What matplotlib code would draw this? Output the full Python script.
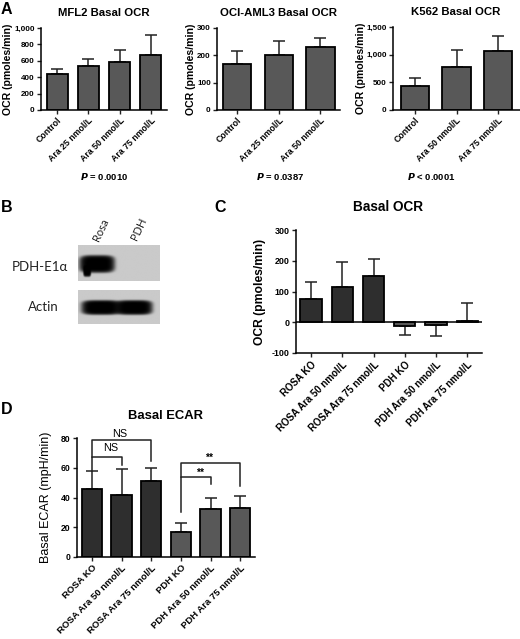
"""Basal OCR / ECAR figure with bar panels and a western blot."""

import matplotlib
matplotlib.use("Agg")
import matplotlib.pyplot as plt
import numpy as np

W, H = 520, 639

mfl2_labels = ["Control", "Ara 25 nmol/L", "Ara 50 nmol/L", "Ara 75 nmol/L"]
mfl2_values = [440, 540, 580, 665]
mfl2_tops = [505, 625, 730, 910]

oci_labels = ["Control", "Ara 25 nmol/L", "Ara 50 nmol/L"]
oci_values = [170, 203, 230]
oci_tops = [215, 253, 265]

k562_labels = ["Control", "Ara 50 nmol/L", "Ara 75 nmol/L"]
k562_values = [440, 785, 1065]
k562_tops = [570, 1090, 1330]

ko_labels = ["ROSA KO", "ROSA Ara 50 nmol/L", "ROSA Ara 75 nmol/L",
             "PDH KO", "PDH Ara 50 nmol/L", "PDH Ara 75 nmol/L"]
ocr_values = [75, 115, 152, -13, -8, 3]
ocr_ends = [132, 197, 205, -43, -45, 62]
ecar_values = [45.5, 42, 51, 16.5, 32.5, 33]
ecar_tops = [58, 59, 60, 23, 40, 41]

DARK = "#2e2e2e"
MID = "#585858"
KO_COLORS = [DARK, DARK, DARK, MID, MID, MID]

plt.rcParams["font.family"] = ["Liberation Sans", "DejaVu Sans"]
plt.rcParams["font.weight"] = "bold"

fig = plt.figure(figsize=(W / 100, H / 100), dpi=100)


def px_axes(left, right, top, bottom):
    """建坐标轴，参数为图片像素位置。"""
    return fig.add_axes([left / W, 1 - bottom / H, (right - left) / W, (bottom - top) / H])


def fig_text(x, y, s, **kwargs):
    fig.text(x / W, 1 - y / H, s, ha=kwargs.pop("ha", "center"), va=kwargs.pop("va", "center"), **kwargs)


def bar_panel(box, labels, values, ends, colors, ylim, ticks, ticklabels, ylabel, slots,
              ylabel_x=-0.27, ylabel_weight="bold", ylabel_size=7.6, ytick_size=5.8, xtick_size=6.3):
    ax = px_axes(*box)
    xs = np.arange(len(values))
    ax.bar(xs, values, width=0.68, color=colors, edgecolor="black", linewidth=1.3, zorder=2)
    for x, v, e in zip(xs, values, ends):
        ax.errorbar(x, v, yerr=[[0], [e - v]] if e > v else [[v - e], [0]],
                    color="#222222", elinewidth=1.1, capsize=4.5, capthick=1.1, zorder=1)
    ax.set_xlim(*slots)
    ax.set_ylim(*ylim)
    ax.set_yticks(ticks)
    ax.set_yticklabels(ticklabels, fontsize=ytick_size)
    ax.set_xticks(xs)
    ax.set_xticklabels(labels, rotation=45, ha="right", rotation_mode="anchor", fontsize=xtick_size)
    ax.tick_params(length=3, width=1, pad=1.5, color="#222222")
    ax.spines[["top", "right"]].set_visible(False)
    ax.spines[["left", "bottom"]].set_linewidth(1.1)
    ax.set_ylabel(ylabel, fontsize=ylabel_size, weight=ylabel_weight, labelpad=0)
    ax.yaxis.set_label_coords(ylabel_x, 0.5)
    return ax


# Panel A
bar_panel((41, 167, 28, 110), mfl2_labels, mfl2_values, mfl2_tops, MID, (0, 1000),
          [0, 200, 400, 600, 800, 1000], ["0", "200", "400", "600", "800", "1,000"],
          "OCR (pmoles/min)", (-0.52, 3.52), ylabel_x=-0.22)
bar_panel((217, 340, 28, 110), oci_labels, oci_values, oci_tops, MID, (0, 300),
          [0, 100, 200, 300], ["0", "100", "200", "300"],
          "OCR (pmoles/min)", (-0.48, 2.47), ylabel_x=-0.17)
bar_panel((393, 520, 27, 110), k562_labels, k562_values, k562_tops, MID, (0, 1500),
          [0, 500, 1000, 1500], ["0", "500", "1,000", "1,500"],
          "OCR (pmoles/min)", (-0.53, 2.53), ylabel_x=-0.21)

fig_text(104, 13, "MFL2 Basal OCR", fontsize=8.2)
fig_text(279, 13, "OCI-AML3 Basal OCR", fontsize=8.2)
fig_text(456, 12, "K562 Basal OCR", fontsize=8.2)
fig_text(104, 176, r"$\bfit{P}$ = 0.0010", fontsize=6.8)
fig_text(280, 176, r"$\bfit{P}$ = 0.0387", fontsize=6.8)
fig_text(431, 176, r"$\bfit{P}$ < 0.0001", fontsize=6.8)

# Panel B: blot
BLOT_FONT = ["Lato", "DejaVu Sans"]
for (top, bottom), bands in (
    ((245, 281), [(97, 264, 18, 9), (87, 271, 4, 6)]),
    ((290, 324), [(101, 307.5, 20, 7.5), (134, 307.5, 19, 7.5)]),
):
    ax = px_axes(78, 160, top, bottom)
    yy, xx = np.mgrid[top:bottom:80j, 78:160:160j]
    img = np.full(xx.shape, 0.79)
    for cx, cy, rx, ry in bands:
        r = ((xx - cx) / rx) ** 4 + ((yy - cy) / ry) ** 4
        img = img * (1 - np.exp(-r ** 2))
    ax.imshow(img, cmap="gray", vmin=0, vmax=1, extent=(78, 160, bottom, top), aspect="auto")
    ax.axis("off")

fig_text(40, 267, "PDH-E1α", fontsize=9.5, family=BLOT_FONT, weight="normal", color="#222222")
fig_text(43, 307, "Actin", fontsize=9.5, family=BLOT_FONT, weight="normal", color="#222222")
fig_text(101, 230, "Rosa", fontsize=8, family=BLOT_FONT, weight="normal", rotation=65, color="#222222")
fig_text(139, 229, "PDH", fontsize=8, family=BLOT_FONT, weight="normal", rotation=65, color="#222222")

# Panel C
ax_c = bar_panel((296, 482, 230, 353), ko_labels, ocr_values, ocr_ends, KO_COLORS, (-100, 300),
                 [-100, 0, 100, 200, 300], ["-100", "0", "100", "200", "300"],
                 "OCR (pmoles/min)", (-0.48, 5.47), ylabel_x=-0.16, ylabel_size=8.7,
                 ytick_size=6.4, xtick_size=7)
ax_c.axhline(0, color="black", lw=1.1, zorder=3)
fig_text(388, 207, "Basal OCR", fontsize=9.8)

# Panel D
ax_d = bar_panel((77, 255, 438, 557), ko_labels, ecar_values, ecar_tops, KO_COLORS, (0, 80),
                 [0, 20, 40, 60, 80], ["0", "20", "40", "60", "80"],
                 "Basal ECAR (mpH/min)", (-0.5, 5.5), ylabel_x=-0.14,
                 ylabel_weight="normal", ylabel_size=9, ytick_size=6.2, xtick_size=6.8)
for x_pair, y_pair in (
    ([0, 0, 1, 1], [58, 67, 67, 62]),
    ([0, 0, 2, 2], [67, 78.7, 78.7, 64.5]),
    ([3, 3, 4, 4], [30, 54, 54, 49]),
    ([3, 3, 5, 5], [54, 63, 63, 48]),
):
    ax_d.plot(x_pair, y_pair, color="#222222", lw=1.1, clip_on=False, zorder=4)
ax_d.text(0.65, 73, "NS", ha="center", va="center", fontsize=7.8, weight="normal")
ax_d.text(0.95, 82.5, "NS", ha="center", va="center", fontsize=7.8, weight="normal")
ax_d.text(3.65, 56.5, "**", ha="center", va="center", fontsize=7.5)
ax_d.text(3.95, 66.5, "**", ha="center", va="center", fontsize=7.5)
fig_text(166, 416, "Basal ECAR", fontsize=9.4)

# Panel letters
fig_text(1, 9, "A", fontsize=11.5, ha="left")
fig_text(1, 208, "B", fontsize=11.5, ha="left")
fig_text(214, 207, "C", fontsize=11.5, ha="left")
fig_text(1, 410, "D", fontsize=11.5, ha="left")

fig.savefig("out.png", dpi=100)
